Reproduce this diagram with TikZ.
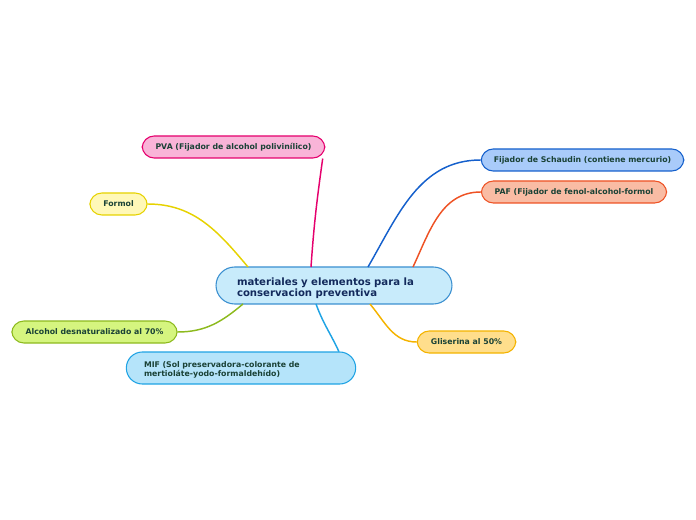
\documentclass[tikz,border=0pt]{standalone}
\usepackage{fontspec}
\setmainfont{DejaVu Sans}
\definecolor{txt}{HTML}{1A4236}
\definecolor{navy}{HTML}{132A5C}
\definecolor{mainfill}{HTML}{C8EBFB}
\definecolor{mainline}{HTML}{3A8FD0}
\definecolor{pvafill}{HTML}{F9B4D8}
\definecolor{pvaline}{HTML}{E5006D}
\definecolor{formolfill}{HTML}{FFF8B8}
\definecolor{formolline}{HTML}{E6D200}
\definecolor{alcfill}{HTML}{D5F57F}
\definecolor{alcline}{HTML}{8DBA1E}
\definecolor{miffill}{HTML}{B5E4FA}
\definecolor{mifline}{HTML}{1FA3E4}
\definecolor{glisfill}{HTML}{FFDE8C}
\definecolor{glisline}{HTML}{F4B300}
\definecolor{schaufill}{HTML}{A9CBFA}
\definecolor{schauline}{HTML}{1560CC}
\definecolor{paffill}{HTML}{F9BCA4}
\definecolor{pafline}{HTML}{EE5224}
\begin{document}
\begin{tikzpicture}[x=0.75pt,y=-0.75pt,
  topic/.style={draw,rounded corners=9pt,line width=0.8pt,font=\bfseries\fontsize{5.85}{6.6}\selectfont,text=txt,inner sep=0pt,minimum height=16.5pt},
  link/.style={line width=1.1pt}]
    \useasboundingbox (0,0) rectangle (696,520);
    \node at (334,285.5) (main) [draw=mainline,fill=mainfill,rounded corners=14pt,line width=0.8pt,minimum width=177pt,minimum height=27.75pt,text width=145.5pt,align=left,font=\bfseries\fontsize{7.6}{8.4}\selectfont,text=navy,inner sep=0pt] {\rule{0pt}{9.6pt}materiales y elementos para la\\conservacion preventiva};
    \node at (233.5,147) (pva) [topic,draw=pvaline,fill=pvafill,minimum width=137pt] {PVA (Fijador de alcohol polivinílico)};
    \node at (118.5,204) (formol) [topic,draw=formolline,fill=formolfill,minimum width=43pt] {Formol};
    \node at (94.5,332) (alcohol) [topic,draw=alcline,fill=alcfill,minimum width=124pt] {Alcohol desnaturalizado al 70\%};
    \node at (241,368) (mif) [topic,draw=mifline,fill=miffill,rounded corners=12pt,minimum width=172pt,minimum height=24pt,text width=145.5pt,align=left] {\rule{0pt}{7.6pt}MIF (Sol preservadora-colorante de\\mertioláte-yodo-formaldehído)};
    \node at (466.5,342) (glis) [topic,draw=glisline,fill=glisfill,minimum width=74pt] {Gliserina al 50\%};
    \node at (582.5,160) (schau) [topic,draw=schauline,fill=schaufill,minimum width=152pt] {Fijador de Schaudin (contiene mercurio)};
    \node at (574,192) (paf) [topic,draw=pafline,fill=paffill,minimum width=139pt] {PAF (Fijador de fenol-alcohol-formol};

    \coordinate (m1) at (311,267);
    \coordinate (m2) at (248,267);
    \coordinate (m3) at (243,304);
    \coordinate (m4) at (316,304);
    \coordinate (m5) at (370,304);
    \coordinate (m6) at (368,267);
    \coordinate (m7) at (413,267);

    \draw[link,pvaline] (m1) to[out=86,in=-98] ([xshift=-2pt]pva.south east);
    \draw[link,formolline] (m2) to[out=130,in=0] (formol.east);
    \draw[link,alcline] (m3) to[out=-140,in=0] (alcohol.east);
    \draw[link,mifline] (m4) to[out=-70,in=115] ([xshift=-13pt]mif.north east);
    \draw[link,glisline] (m5) to[out=-50,in=180] (glis.west);
    \draw[link,schauline] (m6) to[out=60,in=180] (schau.west);
    \draw[link,pafline] (m7) to[out=65,in=180] (paf.west);
\end{tikzpicture}
\end{document}
